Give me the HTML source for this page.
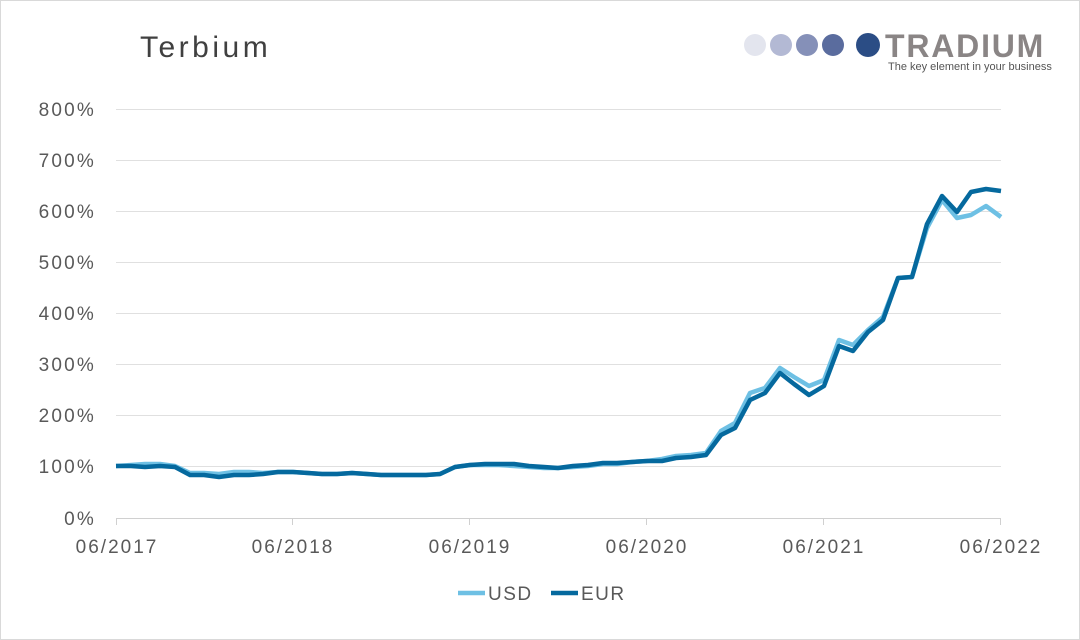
<!DOCTYPE html>
<html><head><meta charset="utf-8"><style>
html,body{margin:0;padding:0;background:#fff}
</style></head><body>
<svg width="1080" height="640" xmlns="http://www.w3.org/2000/svg" style="display:block;font-family:'Liberation Sans',sans-serif">
<rect x="0.5" y="0.5" width="1079" height="639" fill="#fff" stroke="#d9d9d9"/>
<text x="140" y="57" font-size="30" fill="#404040" letter-spacing="3.5">Terbium</text>
<g>
<circle cx="755" cy="45" r="11" fill="#e3e5ee"/>
<circle cx="781" cy="45" r="11" fill="#b3b9d4"/>
<circle cx="807" cy="45" r="11" fill="#8590b8"/>
<circle cx="833" cy="45" r="11" fill="#5a6c9e"/>
<circle cx="868" cy="45" r="12" fill="#2b4d85"/>
<text x="885" y="57" font-size="32" font-weight="bold" fill="#8a8585" letter-spacing="1.8">TRADIUM</text>
<text x="888" y="70" font-size="11" fill="#555">The key element in your business</text>
</g>
<g stroke="#e0e0e0" stroke-width="1">
<line x1="116" x2="1001" y1="109.5" y2="109.5"/>
<line x1="116" x2="1001" y1="160.5" y2="160.5"/>
<line x1="116" x2="1001" y1="211.5" y2="211.5"/>
<line x1="116" x2="1001" y1="262.5" y2="262.5"/>
<line x1="116" x2="1001" y1="313.5" y2="313.5"/>
<line x1="116" x2="1001" y1="364.5" y2="364.5"/>
<line x1="116" x2="1001" y1="415.5" y2="415.5"/>
<line x1="116" x2="1001" y1="466.5" y2="466.5"/>
</g>
<line x1="116" x2="1001" y1="518.5" y2="518.5" stroke="#d0d0d0"/>
<g stroke="#d0d0d0"><line x1="116.5" x2="116.5" y1="518" y2="525"/><line x1="292.5" x2="292.5" y1="518" y2="525"/><line x1="469.5" x2="469.5" y1="518" y2="525"/><line x1="646.5" x2="646.5" y1="518" y2="525"/><line x1="823.5" x2="823.5" y1="518" y2="525"/><line x1="1000.5" x2="1000.5" y1="518" y2="525"/></g>
<g font-size="19" fill="#595959" text-anchor="end" letter-spacing="2.2">
<text x="96" y="116">800%</text><text x="96" y="167">700%</text><text x="96" y="218">600%</text><text x="96" y="269">500%</text><text x="96" y="320">400%</text><text x="96" y="371">300%</text><text x="96" y="422">200%</text><text x="96" y="473">100%</text><text x="96" y="525">0%</text>
</g>
<g font-size="19" fill="#595959" text-anchor="middle" letter-spacing="2">
<text x="117" y="553">06/2017</text><text x="293" y="553">06/2018</text><text x="470" y="553">06/2019</text><text x="647" y="553">06/2020</text><text x="824" y="553">06/2021</text><text x="1001" y="553">06/2022</text>
</g>
<polyline fill="none" stroke="#6ec0e4" stroke-width="4.5" stroke-linejoin="round" points="116,466 131,465 145,464 160,464 175,466 190,473 204,473 219,474 234,472 249,472 263,473 278,472 293,472 308,473 322,474 337,474 352,473 367,474 381,475 396,475 411,475 426,475 440,474 455,467 470,465 485,465 499,465 514,466 529,467 544,468 558,468 573,467 588,466 603,464 617,464 632,462 647,461 662,459 676,456 691,455 706,453 721,431 735,423 750,393 765,388 780,368 794,377 809,386 824,380 839,340 853,345 868,330 883,317 898,278 912,277 927,228 942,200 957,218 971,215 986,206 1001,217"/>
<polyline fill="none" stroke="#05699e" stroke-width="4.5" stroke-linejoin="round" points="116,466 131,466 145,467 160,466 175,467 190,475 204,475 219,477 234,475 249,475 263,474 278,472 293,472 308,473 322,474 337,474 352,473 367,474 381,475 396,475 411,475 426,475 440,474 455,467 470,465 485,464 499,464 514,464 529,466 544,467 558,468 573,466 588,465 603,463 617,463 632,462 647,461 662,461 676,458 691,457 706,455 721,435 735,428 750,400 765,393 780,373 794,384 809,395 824,386 839,346 853,351 868,332 883,320 898,278 912,277 927,224 942,196 957,212 971,192 986,189 1001,191"/>
<line x1="458" x2="485" y1="593" y2="593" stroke="#6ec0e4" stroke-width="4.5"/>
<text x="488" y="600" font-size="19" fill="#595959" letter-spacing="1.5">USD</text>
<line x1="551" x2="578" y1="593" y2="593" stroke="#05699e" stroke-width="4.5"/>
<text x="581" y="600" font-size="19" fill="#595959" letter-spacing="1.5">EUR</text>
</svg>
</body></html>
